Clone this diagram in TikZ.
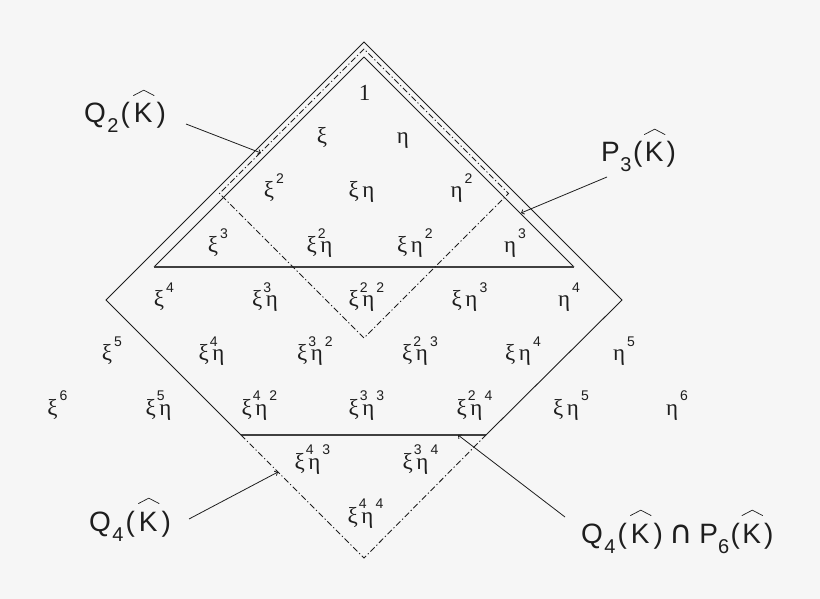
\documentclass[tikz,border=0pt]{standalone}
\usepackage{fontspec}
\setmainfont{Liberation Sans}
\newfontfamily\gkfont{Liberation Serif}
\newfontfamily\lsans{Liberation Sans}
\newfontfamily\djv{DejaVu Sans}
\usetikzlibrary{arrows.meta}
\definecolor{bg}{HTML}{F6F6F6}
\definecolor{ink}{HTML}{1E1E1E}
\newcommand\GX{{\gkfont ξ}}
\newcommand\GE{{\gkfont η}}
\newcommand\supfont{\lsans\fontsize{14}{14}\selectfont}
\newcommand\SupZ[1]{\rlap{\kern1pt\raisebox{14.5pt}{\supfont #1}}}
\newcommand\SupW[1]{\kern2pt\raisebox{14.5pt}{\supfont #1}}
\newcommand\mono[2]{%
  \ifnum#1=0
    \ifnum#2=0 1\else\GE\ifnum#2>1 \SupW{#2}\fi\fi
  \else
    \GX
    \ifnum#2=0
      \ifnum#1>1 \SupW{#1}\fi
    \else
      \ifnum#1>1 \SupZ{#1}\fi\kern3.5pt\GE\ifnum#2>1 \SupW{#2}\fi
    \fi
  \fi}
\newcommand\Sub[1]{\raisebox{-10pt}{\fontsize{20}{20}\selectfont #1}}
\newcommand\Khat{\leavevmode\rlap{\kern-1pt\raisebox{27pt}{\tikz\draw[line width=0.7pt,draw=ink] (0pt,0pt)--(10.5pt,5.5pt)--(21pt,0pt);}}K}
\begin{document}
\begin{tikzpicture}[x=1pt,y=-1pt,
  monostyle/.style={anchor=base,inner sep=0pt,text=ink,font=\gkfont\fontsize{23}{26}\selectfont},
  labstyle/.style={anchor=base west,inner sep=0pt,text=ink,font=\lsans\fontsize{28}{32}\selectfont},
  edgeline/.style={draw=ink,line width=0.9pt,line join=miter},
  baseline/.style={draw=ink!85,line width=1.3pt},
  dashdot/.style={draw=ink,line width=0.9pt,dash pattern=on 6pt off 2.5pt on 1.2pt off 2.5pt},
  conn/.style={draw=ink,line width=0.8pt,-{Straight Barb[length=2.5pt,width=5pt]}}]
\fill[bg] (0,0) rectangle (820,599);
\useasboundingbox (0,0) rectangle (820,599);
% outer pentagon
\coordinate (T) at (364,42);
\coordinate (Lc) at (106,300);
\coordinate (Rc) at (622,300);
\coordinate (BL) at (241,435);
\coordinate (BR) at (486,435);
\coordinate (Bot) at (364,558);
% inner triangle
\coordinate (IT) at (364,57);
\coordinate (IL) at (154,267);
\coordinate (IR) at (574,267);
% dash-dot square
\coordinate (ST) at (364,49);
\coordinate (SL) at (219.5,193.5);
\coordinate (SB) at (364,338);
\coordinate (SR) at (508.5,193.5);
\draw[edgeline] (BL) -- (Lc) -- (T) -- (Rc) -- (BR);
\draw[baseline] (BL) -- (BR);
\draw[edgeline] (IT) -- (IL);
\draw[edgeline] (IT) -- (IR);
\draw[baseline] (IL) -- (IR);
\draw[dashdot] (ST) -- (SL) -- (SB) -- (SR) -- cycle;
\draw[dashdot] (BL) -- (Bot) -- (BR);
% monomials
\foreach \a/\b/\x/\y in {0/0/364.5/101,
  1/0/322/144, 0/1/403/144,
  2/0/274/198, 1/1/361.5/198, 0/2/461.5/198,
  3/0/218/252.5, 2/1/319.5/252.5, 1/2/415/252.5, 0/3/515/252.5,
  4/0/164/306.5, 3/1/265/306.5, 2/2/366.5/306.5, 1/3/469.5/306.5, 0/4/569/306.5,
  5/0/112/360.5, 4/1/211.5/360.5, 3/2/315/360.5, 2/3/420/360.5, 1/4/523/360.5, 0/5/624/360.5,
  6/0/57.5/415, 5/1/158.5/415, 4/2/259.5/415, 3/3/366.5/415, 2/4/474.5/415, 1/5/571/415, 0/6/677/415,
  4/3/312.5/469, 3/4/420.5/469,
  4/4/365.5/523}
  \node[monostyle] (m\a\b) at (\x,\y) {\mono{\a}{\b}};
% labels
\node[labstyle] (q2) at (84,123) {Q\kern1.5pt\Sub{2}\kern2pt(\kern4pt\Khat\kern4pt)};
\node[labstyle] (p3) at (601,162) {P\kern0.5pt\Sub{3}\kern1.5pt(\kern2.5pt\Khat\kern3pt)};
\node[labstyle] (q4) at (89,531) {Q\kern1.5pt\Sub{4}\kern2pt(\kern4pt\Khat\kern4pt)};
\node[labstyle] (q4p6) at (581,543) {Q\kern1.5pt\Sub{4}\kern2pt(\kern4pt\Khat\kern4pt)\kern7pt{\djv\fontsize{32}{36}\selectfont ∩}\kern6pt P\Sub{6}\kern1.5pt(\kern2.5pt\Khat\kern3pt)};
% connectors
\coordinate (q2s) at (186,124);
\coordinate (q2t) at (261,153);
\coordinate (p3s) at (607,177);
\coordinate (p3t) at (521,213);
\coordinate (q4s) at (189,519);
\coordinate (q4t) at (278,472);
\coordinate (q4p6s) at (565,517);
\coordinate (q4p6t) at (458,435);
\draw[conn] (q2s) -- (q2t);
\draw[conn] (p3s) -- (p3t);
\draw[conn] (q4s) -- (q4t);
\draw[conn] (q4p6s) -- (q4p6t);
\end{tikzpicture}
\end{document}
